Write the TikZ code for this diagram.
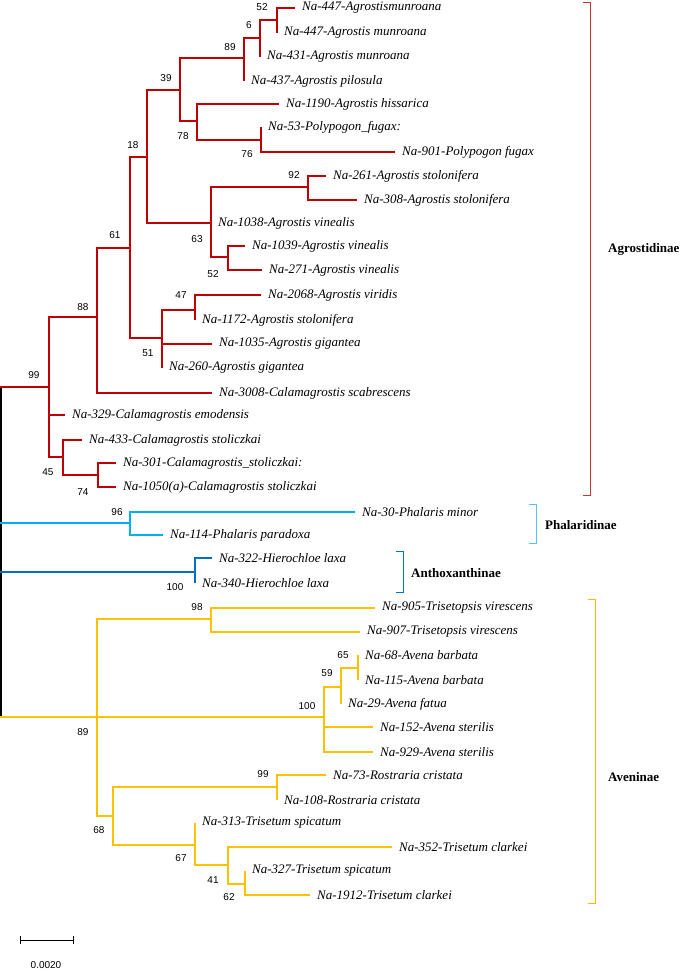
\documentclass[tikz,border=0pt]{standalone}
\usepackage{fontspec}
\setmainfont{Liberation Serif}
\setsansfont{Liberation Sans}
\begin{document}
\begin{tikzpicture}[x=1pt,y=-1pt,
  br/.style={line width=2.6pt},
  lab/.style={anchor=west,font=\fontsize{13}{14}\selectfont\itshape,inner sep=0pt,xshift=7pt},
  bs/.style={font=\sffamily\fontsize{10}{11}\selectfont,inner sep=0pt},
  grp/.style={font=\fontsize{13}{14}\selectfont\bfseries,anchor=west,inner sep=0pt},
  brk/.style={line width=1pt}]
\definecolor{cR}{RGB}{192,0,0}
\definecolor{cL}{RGB}{0,176,240}
\definecolor{cD}{RGB}{0,112,192}
\definecolor{cY}{RGB}{255,192,0}
\useasboundingbox (0,0) rectangle (685,972);
% coordinates
\coordinate (rootA) at (0,387); \coordinate (rootB) at (0,523);
\coordinate (rootC) at (0,572); \coordinate (rootD) at (0,717);
\coordinate (R99) at (49,387); \coordinate (R88) at (97,317);
\coordinate (R61) at (130,248); \coordinate (R18) at (147,157);
\coordinate (R39) at (180,90); \coordinate (R89) at (244,58);
\coordinate (R6) at (260,38); \coordinate (R52) at (277,20);
\coordinate (L1) at (295,8); \coordinate (L2) at (277,33);
\coordinate (L3) at (260,57); \coordinate (L4) at (244,81);
\coordinate (R78) at (197,121); \coordinate (L5) at (279,104);
\coordinate (R76) at (261,140); \coordinate (L6) at (261,127); \coordinate (L7) at (395,152);
\coordinate (R63) at (211,223); \coordinate (L10) at (211,223);
\coordinate (R92) at (308,187); \coordinate (L8) at (326,176); \coordinate (L9) at (357,200);
\coordinate (R52b) at (228,257); \coordinate (L11) at (245,246); \coordinate (L12) at (262,270);
\coordinate (R51) at (162,338); \coordinate (R47) at (195,310);
\coordinate (L13) at (261,295); \coordinate (L14) at (195,320);
\coordinate (L15) at (212,344); \coordinate (L16) at (162,368);
\coordinate (L17) at (212,393); \coordinate (L18) at (65,415);
\coordinate (R45) at (63,457); \coordinate (L19) at (82,440);
\coordinate (R74) at (98,475); \coordinate (L20) at (116,463); \coordinate (L21) at (116,487);
\coordinate (B96) at (130,523); \coordinate (L22) at (355,512); \coordinate (L23) at (163,535);
\coordinate (H100) at (195,572); \coordinate (L24) at (212,558); \coordinate (L25) at (195,583);
\coordinate (Y89) at (97,717); \coordinate (Y98) at (211,619);
\coordinate (L26) at (375,608); \coordinate (L27) at (360,632);
\coordinate (Y100) at (324,717); \coordinate (Y59) at (341,687);
\coordinate (Y65) at (358,668); \coordinate (L28) at (358,655); \coordinate (L29) at (358,680);
\coordinate (L30) at (341,704); \coordinate (L31) at (373,727); \coordinate (L32) at (373,752);
\coordinate (Y68) at (113,816); \coordinate (Y99) at (277,787);
\coordinate (L33) at (326,775); \coordinate (L34) at (277,800);
\coordinate (Y67) at (195,845); \coordinate (L35) at (195,823);
\coordinate (Y41) at (228,865); \coordinate (L36) at (392,847);
\coordinate (Y62) at (245,884); \coordinate (L37) at (245,871); \coordinate (L38) at (310,895);
% root
\draw[line width=1.5pt,black] (1,387) -- (1,717);
% red clade
\begin{scope}[br,cR]
\draw (rootA) -- (R99);
\draw (R99) |- (R88); \draw (R99) |- (L18); \draw (R99) |- (R45);
\draw (R45) |- (L19); \draw (R45) |- (R74);
\draw (R74) |- (L20); \draw (R74) |- (L21);
\draw (R88) |- (R61); \draw (R88) |- (L17);
\draw (R61) |- (R18); \draw (R61) |- (R51);
\draw (R51) |- (R47); \draw (R51) |- (L15); \draw (R51) |- (L16);
\draw (R47) |- (L13); \draw (R47) |- (L14);
\draw (R18) |- (R39); \draw (R18) |- (R63);
\draw (R63) |- (R92); \draw (R63) |- (R52b);
\draw (R92) |- (L8); \draw (R92) |- (L9);
\draw (R52b) |- (L11); \draw (R52b) |- (L12);
\draw (R39) |- (R89); \draw (R39) |- (R78);
\draw (R78) |- (L5); \draw (R78) |- (R76);
\draw (R76) |- (L6); \draw (R76) |- (L7);
\draw (R89) |- (R6); \draw (R89) |- (L4);
\draw (R6) |- (R52); \draw (R6) |- (L3);
\draw (R52) |- (L1); \draw (R52) |- (L2);
\end{scope}
\begin{scope}[br,cL]
\draw (rootB) -- (B96); \draw (B96) |- (L22); \draw (B96) |- (L23);
\end{scope}
\begin{scope}[br,cD]
\draw (rootC) -- (H100); \draw (H100) |- (L24); \draw (H100) |- (L25);
\end{scope}
\begin{scope}[br,cY]
\draw (rootD) -- (Y89);
\draw (Y89) |- (Y98); \draw (Y89) -- (Y100); \draw (Y89) |- (Y68);
\draw (Y98) |- (L26); \draw (Y98) |- (L27);
\draw (Y100) |- (Y59); \draw (Y100) |- (L31); \draw (Y100) |- (L32);
\draw (Y59) |- (Y65); \draw (Y59) |- (L30);
\draw (Y65) |- (L28); \draw (Y65) |- (L29);
\draw (Y68) |- (Y99); \draw (Y68) |- (Y67);
\draw (Y99) |- (L33); \draw (Y99) |- (L34);
\draw (Y67) |- (L35); \draw (Y67) |- (Y41);
\draw (Y41) |- (L36); \draw (Y41) |- (Y62);
\draw (Y62) |- (L37); \draw (Y62) |- (L38);
\end{scope}
% leaf labels
\node[lab] (t1) at (L1) {Na-447-Agrostismunroana};
\node[lab] (t2) at (L2) {Na-447-Agrostis munroana};
\node[lab] (t3) at (L3) {Na-431-Agrostis munroana};
\node[lab] (t4) at (L4) {Na-437-Agrostis pilosula};
\node[lab] (t5) at (L5) {Na-1190-Agrostis hissarica};
\node[lab] (t6) at (L6) {Na-53-Polypogon\_fugax:};
\node[lab] (t7) at (L7) {Na-901-Polypogon fugax};
\node[lab] (t8) at (L8) {Na-261-Agrostis stolonifera};
\node[lab] (t9) at (L9) {Na-308-Agrostis stolonifera};
\node[lab] (t10) at (L10) {Na-1038-Agrostis vinealis};
\node[lab] (t11) at (L11) {Na-1039-Agrostis vinealis};
\node[lab] (t12) at (L12) {Na-271-Agrostis vinealis};
\node[lab] (t13) at (L13) {Na-2068-Agrostis viridis};
\node[lab] (t14) at (L14) {Na-1172-Agrostis stolonifera};
\node[lab] (t15) at (L15) {Na-1035-Agrostis gigantea};
\node[lab] (t16) at (L16) {Na-260-Agrostis gigantea};
\node[lab] (t17) at (L17) {Na-3008-Calamagrostis scabrescens};
\node[lab] (t18) at (L18) {Na-329-Calamagrostis emodensis};
\node[lab] (t19) at (L19) {Na-433-Calamagrostis stoliczkai};
\node[lab] (t20) at (L20) {Na-301-Calamagrostis\_stoliczkai:};
\node[lab] (t21) at (L21) {Na-1050(a)-Calamagrostis stoliczkai};
\node[lab] (t22) at (L22) {Na-30-Phalaris minor};
\node[lab] (t23) at (L23) {Na-114-Phalaris paradoxa};
\node[lab] (t24) at (L24) {Na-322-Hierochloe laxa};
\node[lab] (t25) at (L25) {Na-340-Hierochloe laxa};
\node[lab] (t26) at (L26) {Na-905-Trisetopsis virescens};
\node[lab] (t27) at (L27) {Na-907-Trisetopsis virescens};
\node[lab] (t28) at (L28) {Na-68-Avena barbata};
\node[lab] (t29) at (L29) {Na-115-Avena barbata};
\node[lab] (t30) at (L30) {Na-29-Avena fatua};
\node[lab] (t31) at (L31) {Na-152-Avena sterilis};
\node[lab] (t32) at (L32) {Na-929-Avena sterilis};
\node[lab] (t33) at (L33) {Na-73-Rostraria cristata};
\node[lab] (t34) at (L34) {Na-108-Rostraria cristata};
\node[lab] (t35) at (L35) {Na-313-Trisetum spicatum};
\node[lab] (t36) at (L36) {Na-352-Trisetum clarkei};
\node[lab] (t37) at (L37) {Na-327-Trisetum spicatum};
\node[lab] (t38) at (L38) {Na-1912-Trisetum clarkei};
% bootstrap values
\node[bs] (b1) at (262,7) {52};
\node[bs] (b2) at (249,25) {6};
\node[bs] (b3) at (230,47) {89};
\node[bs] (b4) at (166,78) {39};
\node[bs] (b5) at (183,136) {78};
\node[bs] (b6) at (247,154) {76};
\node[bs] (b7) at (133,145) {18};
\node[bs] (b8) at (294,175) {92};
\node[bs] (b9) at (197,239) {63};
\node[bs] (b10) at (115,235) {61};
\node[bs] (b11) at (83,307) {88};
\node[bs] (b12) at (34,375) {99};
\node[bs] (b13) at (148,353) {51};
\node[bs] (b14) at (181,295) {47};
\node[bs] (b15) at (213,274) {52};
\node[bs] (b16) at (48,472) {45};
\node[bs] (b17) at (83,492) {74};
\node[bs] (b18) at (117,512) {96};
\node[bs] (b19) at (175,587) {100};
\node[bs] (b20) at (197,607) {98};
\node[bs] (b21) at (343,655) {65};
\node[bs] (b22) at (327,673) {59};
\node[bs] (b23) at (307,706) {100};
\node[bs] (b24) at (83,732) {89};
\node[bs] (b25) at (263,774) {99};
\node[bs] (b26) at (99,830) {68};
\node[bs] (b27) at (181,858) {67};
\node[bs] (b28) at (213,880) {41};
\node[bs] (b29) at (229,897) {62};
% group brackets
\draw[brk,cR!80!white] (583,2) -- (590,2) -- (590,495) -- (583,495);
\node[grp] (g1) at (608,249) {Agrostidinae};
\draw[brk,cL!70!white] (529,504) -- (536,504) -- (536,543) -- (529,543);
\node[grp] (g2) at (545,525) {Phalaridinae};
\draw[brk,cD] (396,551) -- (403,551) -- (403,592) -- (396,592);
\node[grp] (g3) at (411,573) {Anthoxanthinae};
\draw[brk,cY!80!orange] (588,599) -- (595,599) -- (595,903) -- (588,903);
\node[grp] (g4) at (608,777) {Aveninae};
% scale bar
\coordinate (s1) at (20,940); \coordinate (s2) at (73,940);
\draw[line width=0.8pt] (s1) -- (s2);
\draw[line width=0.8pt] ([yshift=-4pt]s1) -- ([yshift=4pt]s1);
\draw[line width=0.8pt] ([yshift=-4pt]s2) -- ([yshift=4pt]s2);
\node[bs] (sl) at (46,965) {0.0020};
\end{tikzpicture}
\end{document}
